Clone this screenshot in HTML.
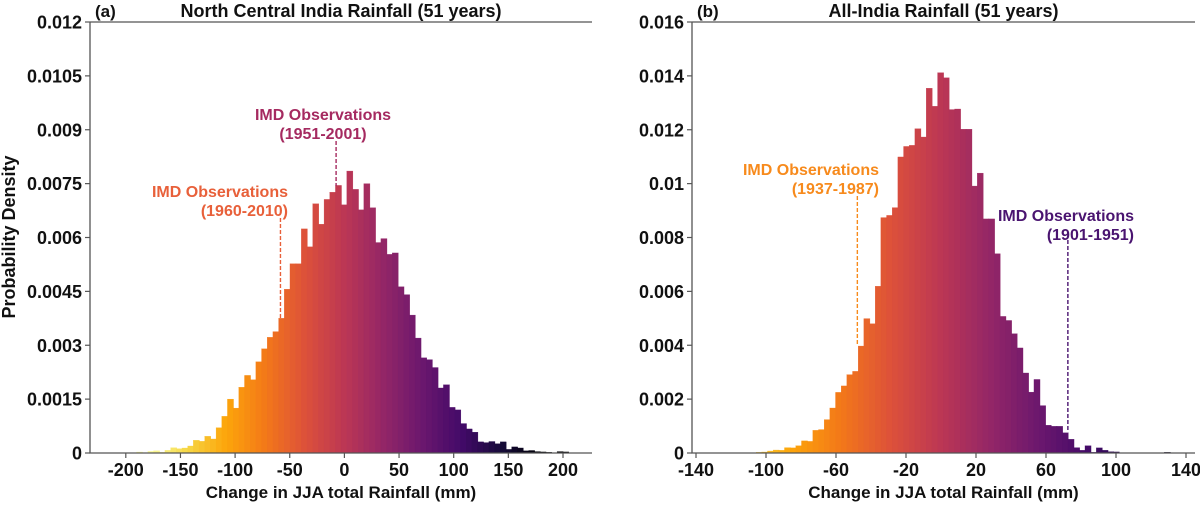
<!DOCTYPE html>
<html><head><meta charset="utf-8"><style>
html,body{margin:0;padding:0;background:#fff;}
svg text{font-family:"Liberation Sans",Arial,sans-serif;font-weight:bold;}
</style></head><body>
<svg id="chart" width="1200" height="503" viewBox="0 0 1200 503" xmlns="http://www.w3.org/2000/svg"></svg>
<script>
// Panel (a): North Central India — density values ×1e-5
const aBinStart = -195.4;
const aBinWidth = 5.2;
const aDensityE5 = [0.9,2.8,0,4.6,6.5,1.9,7.4,14.8,12.1,13.9,19.5,35.3,32.5,46.4,39.0,70.5,102,150,125,183,216,204,254,290,322,338,375,456,527,527,624,574,694,637,706,726,745,691,785,734,677,750,683,586,597,553,557,463,441,384,320,265,260,238,181,190,127,120,82,67,58,31,29,32,26,31,10,17,14,6,7,4,3,2,0,4,3];
const aXTicks = [-200,-150,-100,-50,0,50,100,150,200];
const aYTicks = [0,0.0015,0.003,0.0045,0.006,0.0075,0.009,0.0105,0.012];
const aYTickLabels = ["0","0.0015","0.003","0.0045","0.006","0.0075","0.009","0.0105","0.012"];
const aObs = [-7.6, -58.5];
const aObsLabels = [["IMD Observations","(1951-2001)"],["IMD Observations","(1960-2010)"]];

// Panel (b): All-India — density values ×1e-5
const bBinStart = -118.6;
const bBinWidth = 3.24;
const bDensityE5 = [1.2,1.2,1.2,1.2,2.5,3.7,7.4,11,10,20,19,27,45,43,84,87,124,167,225,249,291,303,397,499,480,619,874,882,911,1099,1138,1142,1204,1173,1354,1287,1412,1393,1275,1277,1202,1202,991,1039,869,869,740,507,492,443,390,297,226,273,176,103,99,99,75,51,20,10,27,2.5,19,10,5,4,1,0,0,0,0,0,0,0,2.5];
const bXTicks = [-140,-100,-60,-20,20,60,100,140];
const bYTicks = [0,0.002,0.004,0.006,0.008,0.01,0.012,0.014,0.016];
const bYTickLabels = ["0","0.002","0.004","0.006","0.008","0.01","0.012","0.014","0.016"];
const bObs = [-47.8, 72.5];
const bObsLabels = [["IMD Observations","(1937-1987)"],["IMD Observations","(1901-1951)"]];

const NS = "http://www.w3.org/2000/svg";
const svg = document.getElementById('chart');
function mk(tag, attrs, parent){const e=document.createElementNS(NS,tag);for(const k in attrs)e.setAttribute(k,attrs[k]);(parent||svg).appendChild(e);return e;}

const inf=[[0,0,0,4],[0.1,22,11,57],[0.2,66,10,104],[0.3,106,23,110],[0.4,147,38,103],[0.5,188,55,84],[0.6,221,81,58],[0.7,243,120,25],[0.8,252,165,10],[0.9,246,215,70],[1,252,255,164]];
function inferno(t){t=Math.max(0,Math.min(1,t));for(let i=1;i<inf.length;i++){if(t<=inf[i][0]){const a=inf[i-1],b=inf[i];const f=(t-a[0])/(b[0]-a[0]);return `rgb(${Math.round(a[1]+f*(b[1]-a[1]))},${Math.round(a[2]+f*(b[2]-a[2]))},${Math.round(a[3]+f*(b[3]-a[3]))})`;}}return 'rgb(252,255,164)';}

function panel(cfg){
  const g=mk('g',{});
  
  
  const x=v=>cfg.x0+v*cfg.kx;
  const y=v=>cfg.bottom-(v/cfg.ymax)*(cfg.bottom-cfg.top);
  cfg.data.forEach((d,i)=>{
    const lo=cfg.binStart+i*cfg.binW, hi=lo+cfg.binW, val=d*1e-5;
    if(val<=0) return;
    const c=inferno(cfg.tc+cfg.ts*(lo+cfg.binW/2));
    const r=mk('rect',{x:x(lo),y:y(val),width:x(hi)-x(lo)+0.4,height:cfg.bottom-y(val),fill:c,stroke:c,'stroke-width':0.3},g);
    
    
  });
  const ax=mk('path',{d:`M${cfg.left},${cfg.top} H${cfg.right} M${cfg.left},${cfg.top} V${cfg.bottom} H${cfg.right}`,stroke:'#555',fill:'none','stroke-width':1.3},g);
  
  
  cfg.yTicks.forEach((v,i)=>{
    mk('line',{x1:cfg.left-5,x2:cfg.left,y1:y(v),y2:y(v),stroke:'#555','stroke-width':1.2},g);
    const t=mk('text',{x:cfg.left-8,y:y(v)+6.5,'text-anchor':'end','font-size':18,fill:'#111'},g);
    t.textContent=cfg.yLabels[i];
    
    
  });
  cfg.xTicks.forEach(v=>{
    mk('line',{x1:x(v),x2:x(v),y1:cfg.bottom,y2:cfg.bottom+5,stroke:'#555','stroke-width':1.2},g);
    const t=mk('text',{x:x(v),y:cfg.bottom+23,'text-anchor':'middle','font-size':18,fill:'#111'},g);
    t.textContent=String(v);
    
    
  });
  const xl=mk('text',{x:(cfg.left+cfg.right)/2,y:498,'text-anchor':'middle','font-size':17,fill:'#111'},g);
  xl.textContent='Change in JJA total Rainfall (mm)';
  
  
  const pl=mk('text',{x:cfg.left+5,y:17,'font-size':17,fill:'#111'},g);
  pl.textContent=cfg.tag;
  
  
  const tt=mk('text',{x:(cfg.left+cfg.right)/2,y:17,'text-anchor':'middle','font-size':18,fill:'#111'},g);
  tt.textContent=cfg.title;
  
  
  cfg.obs.forEach((o,i)=>{
    const a=cfg.ann[i];
    const ln=mk('line',{x1:x(o),x2:x(o),y1:a.y1,y2:a.y2,stroke:a.color,'stroke-width':1.4,'stroke-dasharray':'4,2'},g);
    
    
    cfg.obsLabels[i].forEach((s,j)=>{
      const t=mk('text',{x:a.tx,y:a.ty+j*19,'text-anchor':a.anchor,'font-size':16,fill:a.color},g);
      t.textContent=s;
      
      
    });
  });
}

panel({name:'panel-a-north-central-india',tag:'(a)',title:'North Central India Rainfall (51 years)',
  left:90,right:592,top:22,bottom:453,x0:344.4,kx:1.093,ymax:0.012,
  data:aDensityE5,binStart:aBinStart,binW:aBinWidth,tc:0.5,ts:-1/360,
  xTicks:aXTicks,yTicks:aYTicks,yLabels:aYTickLabels,obs:aObs,obsLabels:aObsLabels,
  ann:[{color:'#a52a60',y1:141,y2:186,tx:323,ty:120,anchor:'middle'},
       {color:'#e8603a',y1:218,y2:318,tx:288,ty:197,anchor:'end'}]});
panel({name:'panel-b-all-india',tag:'(b)',title:'All-India Rainfall (51 years)',
  left:692,right:1195,top:22,bottom:453,x0:941,kx:1.75,ymax:0.016,
  data:bDensityE5,binStart:bBinStart,binW:bBinWidth,tc:0.5,ts:-0.0035,
  xTicks:bXTicks,yTicks:bYTicks,yLabels:bYTickLabels,obs:bObs,obsLabels:bObsLabels,
  ann:[{color:'#f78a1c',y1:196,y2:345,tx:879,ty:175,anchor:'end'},
       {color:'#4a1470',y1:240,y2:432,tx:1134,ty:221,anchor:'end'}]});

const yl=mk('text',{x:0,y:0,transform:'translate(15,237) rotate(-90)','text-anchor':'middle','font-size':18,fill:'#111'});
yl.textContent='Probability Density';


</script>
</body></html>
